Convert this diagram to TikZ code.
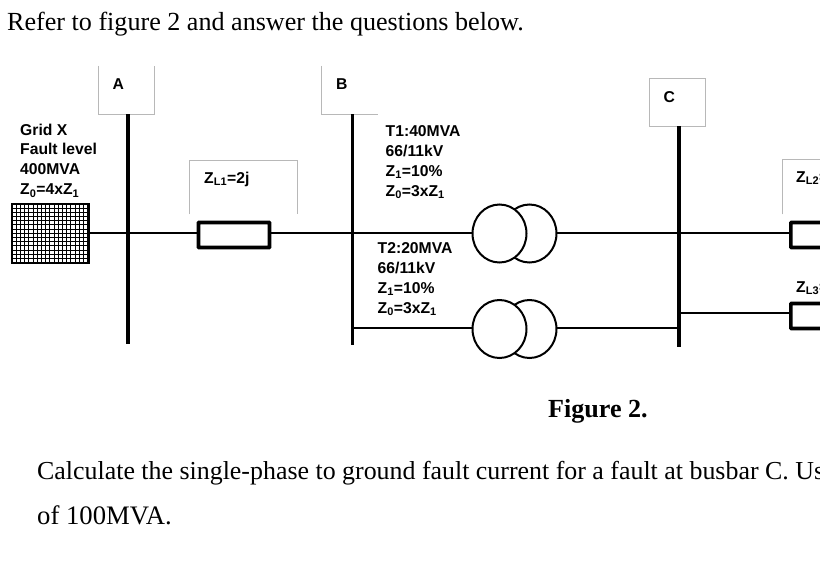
\documentclass[tikz,border=0pt]{standalone}
\usepackage{fontspec}
\setmainfont{Liberation Serif}
\newfontfamily\diagfont{Liberation Sans}
\usetikzlibrary{calc}
\usetikzlibrary{shapes.geometric}
\newcommand*\Zsub[1]{Z\textsubscript{#1}}
\tikzset{
    tagline/.style={draw=black!28, line width=0.6pt},
    tagbox/.style={inner sep=0pt},
    busbar/.style={line width=3.6pt},
    wire/.style={line width=1.7pt},
    linebox/.style={draw, line width=3.6pt, rounded corners=0.5pt, fill=white, minimum height=25pt, inner sep=0pt},
    winding/.style={draw, ellipse, line width=2pt, fill=white, minimum width=54pt, minimum height=58pt, inner sep=0pt},
    caption/.style={anchor=north west, align=left, inner sep=0pt, font=\diagfont\bfseries\fontsize{15.7}{19.8}\selectfont},
    para/.style={anchor=base west, inner sep=0pt, font=\fontsize{26.1}{30}\selectfont},
}
\begin{document}
\begin{tikzpicture}[x=1pt, y=-1pt]
    \useasboundingbox (0,0) rectangle (820,579);
    \fill[white] (0,0) rectangle (820,579);

    % Define nodes
    \node (grid) [draw, line width=1.5pt, minimum width=77pt, minimum height=59pt, inner sep=0pt,
        path picture={
            \foreach \x in {0,4.2,...,80} {\draw[line width=0.9pt] ($(path picture bounding box.north west)+(\x,0)$) -- ++(0,60);}
            \foreach \y in {0,4.2,...,60} {\draw[line width=0.9pt] ($(path picture bounding box.north west)+(0,\y)$) -- ++(80,0);}
        }] at (50.5,233.3) {};
    \node (lineone) [linebox, minimum width=71pt] at (234,235) {};
    \node (linetwo) [linebox, minimum width=71pt, anchor=west] at (789,235) {};
    \node (linethree) [linebox, minimum width=71pt, anchor=west] at (789,316) {};

    \coordinate (Atop) at (128,114);
    \coordinate (Abot) at (128,344);
    \coordinate (Btop) at (352.5,114);
    \coordinate (Bbot) at (352.5,345);
    \coordinate (Ctop) at (679,126);
    \coordinate (Cbot) at (679,347);
    \coordinate (Bout) at (352.5,328);
    \coordinate (Cin) at (679,328);
    \coordinate (Cout) at (679,313);

    \node (tagA) [tagbox, minimum width=56pt, minimum height=48pt] at (126,90) {};
    \node (tagB) [tagbox, minimum width=57pt, minimum height=48pt] at (349.5,90) {};
    \node (tagC) [tagbox, minimum width=56pt, minimum height=48pt] at (677,102) {};
    \node (tagone) [tagbox, minimum width=108pt, minimum height=54pt] at (243.5,187) {};
    \node (tagtwo) [tagbox, minimum width=108pt, minimum height=55pt, anchor=north west] at (782,159) {};

    \draw[tagline] (tagA.north west) -- (tagA.south west) -- (tagA.south east) -- (tagA.north east);
    \draw[tagline] (tagB.north west) -- (tagB.south west) -- (tagB.south east);
    \draw[tagline] (tagC.south west) -- (tagC.north west) -- (tagC.north east) -- (tagC.south east) -- cycle;
    \draw[tagline] (tagone.south west) -- (tagone.north west) -- (tagone.north east) -- (tagone.south east);
    \draw[tagline] (tagtwo.south west) -- (tagtwo.north west) -- (tagtwo.north east);

    % Draw connectors
    \draw[wire] (grid.east) -- (grid.east -| lineone.west);
    \draw[wire] (grid.east -| lineone.east) -- (grid.east -| linetwo.west);
    \draw[wire] (Bout) -- (Cin);
    \draw[wire] (Cout) -- (Cout -| linethree.west);

    \draw[busbar] (Atop) -- (Abot);
    \draw[busbar] (Btop) -- (Bbot);
    \draw[busbar] (Ctop) -- (Cbot);

    \node (oneR) [winding] at (529.5,233.5) {};
    \node (oneL) [winding] at (499.5,233.5) {};
    \node (twoR) [winding] at (529.5,329) {};
    \node (twoL) [winding] at (499.5,329) {};

    % Labels
    \node (nameA) [caption] at (112.5,78) {A};
    \node (nameB) [caption] at (336,78) {B};
    \node (nameC) [caption] at (663.5,91) {C};
    \node (gridtext) [caption] at (20,123.5) {Grid X\\Fault level\\400MVA\\\Zsub{0}=4xZ\textsubscript{1}};
    \node (textone) [caption] at (204,171.5) {\Zsub{L1}=2j};
    \node (texttwo) [caption] at (796,171) {\Zsub{L2}=};
    \node (textthree) [caption] at (796,281) {\Zsub{L3}=};
    \node (tfone) [caption] at (385.5,125.5) {T1:40MVA\\66/11kV\\\Zsub{1}=10\%\\\Zsub{0}=3xZ\textsubscript{1}};
    \node (tftwo) [caption] at (377.5,242.5) {T2:20MVA\\66/11kV\\\Zsub{1}=10\%\\\Zsub{0}=3xZ\textsubscript{1}};

    \node (head) [para] at (7,30) {Refer to figure 2 and answer the questions below.};
    \node (figname) [para, font=\bfseries\fontsize{26.1}{30}\selectfont] at (548,417) {Figure 2.};
    \node (question) [para, font=\fontsize{25.9}{30}\selectfont] at (37,479) {Calculate the single-phase to ground fault current for a fault at busbar C. Us};
    \node (questiontwo) [para, font=\fontsize{26.7}{30}\selectfont] at (37,524) {of 100MVA.};

\end{tikzpicture}
\end{document}
